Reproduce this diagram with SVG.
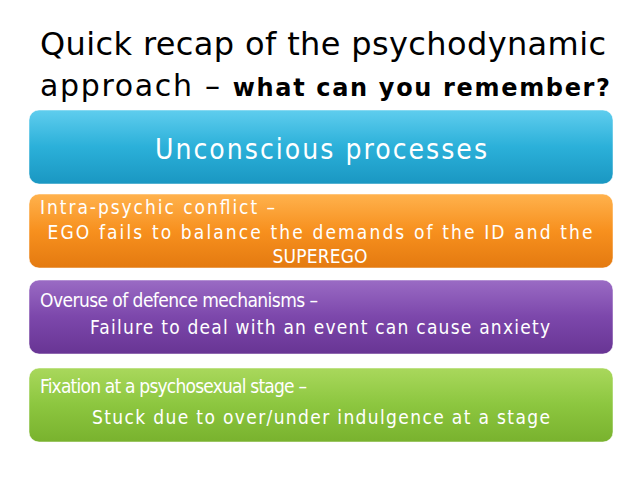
<svg xmlns="http://www.w3.org/2000/svg" width="638" height="479" viewBox="0 0 638 479">
<defs>
<linearGradient id="gb" x1="0" y1="0" x2="0" y2="1"><stop offset="0" stop-color="#5fcdee"/><stop offset="0.5" stop-color="#2bb0d9"/><stop offset="1" stop-color="#1a97c2"/></linearGradient>
<linearGradient id="go" x1="0" y1="0" x2="0" y2="1"><stop offset="0" stop-color="#ffb24d"/><stop offset="0.5" stop-color="#f7901e"/><stop offset="1" stop-color="#e47a10"/></linearGradient>
<linearGradient id="gp" x1="0" y1="0" x2="0" y2="1"><stop offset="0" stop-color="#9a6bc4"/><stop offset="0.5" stop-color="#7c47ab"/><stop offset="1" stop-color="#683594"/></linearGradient>
<linearGradient id="gg" x1="0" y1="0" x2="0" y2="1"><stop offset="0" stop-color="#a9d85c"/><stop offset="0.5" stop-color="#8cc63f"/><stop offset="1" stop-color="#79b22e"/></linearGradient>
</defs>
<style>
.t{font-family:"DejaVu Sans","Noto Sans",sans-serif;fill:#000}
.w{font-family:"DejaVu Sans Condensed","DejaVu Sans",sans-serif;fill:#fff;font-size:19px}
.b{stroke:#ffffff;stroke-opacity:0.5;stroke-width:1}
</style>
<rect width="638" height="479" fill="#fff"/>
<text class="t" x="40" y="55" font-size="32" textLength="566">Quick recap of the psychodynamic</text>
<text class="t" x="40" y="96" font-size="30" textLength="570">approach – <tspan font-weight="bold" font-size="24">what can you remember?</tspan></text>
<g id="n1"><rect class="b" x="29" y="110" width="584" height="74" rx="10" fill="url(#gb)"/>
<text class="w" x="321" y="159" text-anchor="middle" style="font-size:28px" textLength="332">Unconscious processes</text></g>
<g id="n2"><rect class="b" x="29" y="194" width="584" height="74" rx="10" fill="url(#go)"/>
<text class="w" x="40" y="214" textLength="235">Intra-psychic conflict –</text>
<text class="w" x="320" y="239" text-anchor="middle" textLength="545">EGO fails to balance the demands of the ID and the</text>
<text class="w" x="320" y="263" text-anchor="middle" textLength="95">SUPEREGO</text></g>
<g id="n3"><rect class="b" x="29" y="280" width="584" height="74" rx="10" fill="url(#gp)"/>
<text class="w" x="40" y="307" textLength="278">Overuse of defence mechanisms –</text>
<text class="w" x="90" y="334" textLength="460">Failure to deal with an event can cause anxiety</text></g>
<g id="n4"><rect class="b" x="29" y="368" width="584" height="74" rx="10" fill="url(#gg)"/>
<text class="w" x="40" y="393" textLength="267">Fixation at a psychosexual stage –</text>
<text class="w" x="92" y="424" textLength="458">Stuck due to over/under indulgence at a stage</text></g>
<g id="connectors"/>
</svg>
